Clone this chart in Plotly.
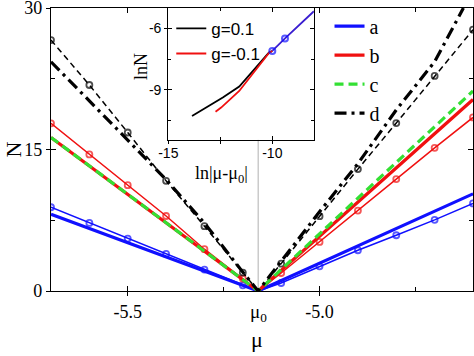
import plotly.graph_objects as go

# ---------------- data ----------------
MU0 = -5.16
mu_left = [-5.7, -5.6, -5.5, -5.4, -5.3, -5.2]
mu_right = [-5.1, -5.0, -4.9, -4.8, -4.7, -4.6]
mu_thin = mu_left + [MU0] + mu_right

thin_a = [8.88, 7.22, 5.56, 3.93, 2.27, 0.60, 0, 0.85, 2.62, 4.32, 5.91, 7.54, 9.28]
thin_b = [17.77, 14.48, 11.22, 7.95, 4.43, 1.32, 0, 1.91, 5.20, 8.53, 11.86, 15.18, 18.40]
thin_d = [26.6, 21.84, 16.8, 11.68, 6.87, 1.95, 0, 2.90, 7.93, 12.92, 17.8, 22.8, 27.7]

mu_thick = [-5.7, MU0, -4.6]
thick_a = [8.14, 0, 10.3]
thick_b = [16.28, 0, 20.3]
thick_c = [16.28, 0, 21.2]
mu_thick_d = [-5.7, -5.6, -5.5, -5.4, -5.3, -5.2, MU0, -5.0, -4.9, -4.8, -4.7, -4.625]
thick_d = [24.3, 20.2, 16.0, 11.8, 7.2, 2.0, 0, 8.4, 13.5, 19.2, 24.3, 30.0]

# inset (log-log)
ln_x_g1 = [-13.86, -13.17, -12.38, -11.59, -10.79, -10.16, -10.0]
ln_y_g1 = [-10.28, -9.87, -9.38, -8.84, -7.91, -7.18, -7.1]
ln_x_gm1 = [-12.73, -12.46, -11.59, -10.79, -10.16, -10.0]
ln_y_gm1 = [-10.07, -9.87, -9.06, -8.05, -7.2, -7.1]
ln_x_fit = [-10.0, -9.39, -8.0]
ln_y_fit = [-7.1, -6.49, -5.16]

x_ticks = [-5.5, -5.0]
x_ticktext = ["-5.5", "-5.0"]
y_ticks = [0, 15, 30]
ix_ticks = [-15, -10]
ix_ticktext = ["-15", "-10"]
iy_ticks = [-6, -9]
iy_ticktext = ["-6", "-9"]

legend_labels = ["a", "b", "c", "d"]
inset_labels = ["g=0.1", "g=-0.1"]

BLUE = "#1010ff"
RED = "#f01010"
GREEN = "#33e033"
BLACK = "#000000"
SERIF = "Liberation Serif"
SANS = "Liberation Sans"

fig = go.Figure()

def msize(xs):
    return [0 if x == MU0 else 6 for x in xs]

# thin lines with open markers
for ys, col, dash in [(thin_a, BLUE, "solid"), (thin_b, RED, "solid"), (thin_d, BLACK, "6px,4px")]:
    fig.add_trace(go.Scatter(
        x=mu_thin, y=ys, mode="lines+markers", showlegend=False,
        line=dict(color=col, width=1.5, dash=dash),
        marker=dict(symbol="circle-open", size=msize(mu_thin), color=col, line=dict(width=1.8, color=col)),
        xaxis="x", yaxis="y"))

# thick lines
fig.add_trace(go.Scatter(x=mu_thick, y=thick_a, mode="lines", name=legend_labels[0],
                         line=dict(color=BLUE, width=3.2), legend="legend"))
fig.add_trace(go.Scatter(x=mu_thick, y=thick_b, mode="lines", name=legend_labels[1],
                         line=dict(color=RED, width=3.2), legend="legend"))
fig.add_trace(go.Scatter(x=mu_thick, y=thick_c, mode="lines", name=legend_labels[2],
                         line=dict(color=GREEN, width=3.2, dash="9px,5px"), legend="legend"))
fig.add_trace(go.Scatter(x=mu_thick_d, y=thick_d, mode="lines", name=legend_labels[3],
                         line=dict(color=BLACK, width=3.2, dash="12px,5px,3px,5px"), legend="legend"))

# inset
fig.add_trace(go.Scatter(x=ln_x_g1, y=ln_y_g1, mode="lines", name=inset_labels[0],
                         line=dict(color=BLACK, width=1.8), xaxis="x2", yaxis="y2", legend="legend2"))
fig.add_trace(go.Scatter(x=ln_x_gm1, y=ln_y_gm1, mode="lines", name=inset_labels[1],
                         line=dict(color=RED, width=1.8), xaxis="x2", yaxis="y2", legend="legend2"))
fig.add_trace(go.Scatter(x=ln_x_fit, y=ln_y_fit, mode="lines+markers", showlegend=False,
                         line=dict(color="#3a1ed0", width=1.8),
                         marker=dict(symbol="circle-open", size=[6, 6, 0], color=BLUE, line=dict(width=2, color=BLUE)),
                         xaxis="x2", yaxis="y2"))

# dummy traces for overlay tick axes
fig.add_trace(go.Scatter(x=[None], y=[None], xaxis="x3", yaxis="y3", showlegend=False, hoverinfo="skip"))
fig.add_trace(go.Scatter(x=[None], y=[None], xaxis="x4", yaxis="y4", showlegend=False, hoverinfo="skip"))

XR = [-5.7, -4.6]
YR = [0, 30]
IXR = [-15, -8]
IYR = [-11.45, -5]
INX = [0.278, 0.623]
INY = [0.534, 1.0]

fig.add_shape(type="line", xref="x", yref="y", x0=MU0, x1=MU0, y0=YR[0], y1=YR[1],
              line=dict(color="#b0b0b0", width=1), layer="below")

axis_common = dict(showgrid=False, zeroline=False, showline=True, linecolor="black", linewidth=1.2,
                   ticks="inside", mirror="ticks", tickcolor="black", tickwidth=1.2, automargin=False,
                   ticklabeloverflow="allow")
overlay_common = dict(showgrid=False, zeroline=False, showline=False, showticklabels=False,
                      ticks="outside", tickwidth=1.2, tickcolor="black", automargin=False)

fig.update_layout(
    width=474, height=356,
    margin=dict(l=51, r=1, t=8, b=65, autoexpand=False),
    paper_bgcolor="white", plot_bgcolor="white",
    xaxis=dict(range=XR, domain=[0, 1], anchor="y", tickvals=x_ticks, ticktext=x_ticktext,
               ticklen=5, tickfont=dict(family=SERIF, size=18, color="black"),
               minor=dict(tickvals=[-5.25, -4.75], ticklen=4, ticks="inside", tickcolor="black"),
               ticklabelstandoff=4, **axis_common),
    yaxis=dict(range=YR, domain=[0, 1], anchor="x", tickvals=y_ticks,
               ticklen=5, tickfont=dict(family=SERIF, size=18, color="black"),
               minor=dict(tickvals=[7.5, 22.5], ticklen=4, ticks="inside", tickcolor="black"),
               ticklabelstandoff=4, **axis_common),
    xaxis3=dict(range=XR, overlaying="x", anchor="y3", side="bottom", ticklen=4,
                tickvals=x_ticks, **overlay_common),
    yaxis3=dict(range=YR, overlaying="y", anchor="x3", side="left", ticklen=4,
                tickvals=y_ticks, **overlay_common),
    xaxis2=dict(range=IXR, domain=INX, anchor="y2", tickvals=ix_ticks, ticktext=ix_ticktext,
                ticklen=4, tickfont=dict(family=SANS, size=14, color="black"),
                minor=dict(tickvals=[-12.5], ticklen=3, ticks="inside", tickcolor="black"),
                **axis_common),
    yaxis2=dict(range=IYR, domain=INY, anchor="x2", tickvals=iy_ticks, ticktext=iy_ticktext,
                ticklen=4, tickfont=dict(family=SANS, size=14, color="black"),
                minor=dict(tickvals=[-7.5, -10.5], ticklen=3, ticks="inside", tickcolor="black"),
                ticklabelstandoff=3, **axis_common),
    xaxis4=dict(range=IXR, overlaying="x2", anchor="y4", side="bottom", ticklen=3,
                tickvals=[-15, -12.5, -10], **overlay_common),
    yaxis4=dict(range=IYR, overlaying="y2", anchor="x4", side="left", ticklen=3,
                tickvals=iy_ticks, **overlay_common),
    legend=dict(x=0.66, y=1.005, xanchor="left", yanchor="top", bgcolor="rgba(0,0,0,0)",
                font=dict(family=SERIF, size=20, color="black"), tracegroupgap=0,
                itemwidth=30, borderwidth=0),
    legend2=dict(x=0.285, y=0.99, xanchor="left", yanchor="top", bgcolor="rgba(0,0,0,0)",
                 font=dict(family=SANS, size=17, color="black"), tracegroupgap=0,
                 itemwidth=30, borderwidth=0),
    showlegend=True,
)

annots = [
    dict(text="μ", x=0.488, y=-0.12, xref="paper", yref="paper", showarrow=False,
         font=dict(family=SERIF, size=22, color="black"), xanchor="center", yanchor="top"),
    dict(text="N", x=-0.09, y=0.5, xref="paper", yref="paper", showarrow=False, textangle=-90,
         font=dict(family=SERIF, size=22, color="black"), xanchor="center", yanchor="middle"),
    dict(text="μ<sub>0</sub>", x=MU0, y=0, xref="x", yref="paper", showarrow=False,
         font=dict(family=SERIF, size=19, color="black"), xanchor="center", yanchor="top", yshift=-8),
    dict(text="lnN", x=0.213, y=0.795, xref="paper", yref="paper", showarrow=False, textangle=-90,
         font=dict(family=SERIF, size=18, color="black"), xanchor="center", yanchor="middle"),
    dict(text="ln|μ-μ<sub>0</sub>|", x=0.403, y=0.41, xref="paper", yref="paper", showarrow=False,
         font=dict(family=SERIF, size=18, color="black"), xanchor="center", yanchor="middle"),
]
fig.update_layout(annotations=annots)

fig.write_html("out.html", post_script="document.body.style.margin='0px';",
               config={"displayModeBar": False})
